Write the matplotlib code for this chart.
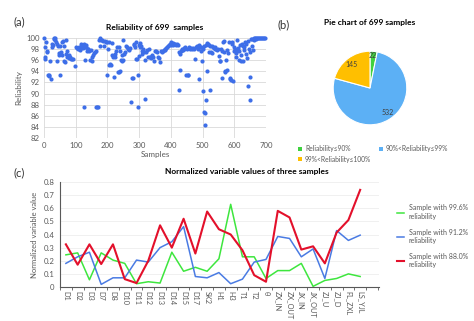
import matplotlib
matplotlib.use("Agg")
import matplotlib.pyplot as plt
from matplotlib.patches import Patch

plt.rcParams['font.family'] = ['Lato', 'DejaVu Sans']

# ---------------- data ----------------
scatter_points = [
    (0,100),(2,98.3),(3,96.5),(4,96.2),(6,99.2),(8,97.6),(10,97.4),(12,93.4),(15,93.3),(17,93.2),(20,95.8),(22,92.7),(24,99.0),(26,98.4),(28,98.8),(30,100),(32,99.9),(34,100),(36,99.6),(38,99.3),(40,95.8),(42,99.0),(44,98.6),(46,97.3),(48,97.0),(50,98.5),
    (52,93.4),(54,97.4),(56,97.0),(58,99.3),(60,99.5),(62,98.6),(64,95.8),(66,95.7),(68,99.7),(70,97.2),(72,96.6),(74,97.6),(76,96.8),(78,96.4),(80,96.9),(82,96.5),(85,96.3),(88,96.2),(92,96.3),(97,95.0),
    (100,98.3),(103,98.2),(106,98.0),(109,98.4),(112,98.1),(115,97.9),(118,99.0),(120,98.6),(122,98.2),(125,87.5),(127,99.0),(129,98.4),(130,96.0),(132,98.8),(134,98.3),(136,97.6),(138,98.1),(140,98.0),(143,97.6),(145,96.0),(147,97.9),(150,95.8),
    (152,96.6),(155,97.0),(158,97.3),(160,97.5),(163,97.6),(165,87.6),(168,87.6),(171,87.6),(172,99.7),(175,100),(177,98.6),(180,99.6),(183,99.7),(186,99.5),(189,98.5),(192,99.5),(195,99.3),(198,99.3),(200,93.3),
    (202,98.0),(204,99.3),(206,95.2),(208,95.3),(210,95.1),(213,99.1),(215,97.0),(218,96.5),(220,92.9),(223,96.6),(225,97.1),(228,97.6),(230,98.3),(232,93.8),(235,98.4),(237,93.9),(239,94.1),(241,97.6),(243,96.0),(245,95.9),(247,97.0),(248,99.7),(250,96.1),
    (253,97.2),(256,97.5),(259,98.6),(262,98.3),(265,98.1),(268,97.9),(271,98.2),(275,88.5),(277,92.8),(280,92.8),(283,99.0),(285,98.7),(287,98.4),(289,96.3),(291,99.3),(293,96.2),(295,87.6),(296,93.4),(298,98.8),(300,96.8),
    (302,98.3),(304,99.1),(306,98.5),(308,97.1),(310,97.6),(313,98.0),(315,97.5),(318,96.0),(320,89.0),(322,97.5),(325,97.9),(327,96.6),(330,98.0),(333,96.5),(335,96.6),(338,96.4),(341,97.0),(344,96.6),(347,95.8),(350,97.7),
    (353,97.6),(356,97.4),(359,96.5),(362,96.4),(365,95.6),(368,97.7),(371,97.5),(374,97.6),(377,97.8),(380,98.0),(383,97.9),(386,98.2),(389,98.4),(392,98.5),(395,98.7),(398,98.9),(400,98.7),
    (402,99.3),(404,99.0),(406,98.8),(408,99.1),(411,98.9),(414,99.0),(417,98.8),(420,98.9),(423,98.7),(425,90.7),(427,97.5),(429,97.2),(430,94.3),(432,97.6),(434,97.9),(436,98.1),(438,97.8),(440,98.0),(443,98.2),(445,98.3),(448,93.4),(450,98.1),
    (453,93.4),(455,93.3),(458,98.3),(461,98.0),(464,98.2),(467,98.1),(470,98.2),(473,98.0),(476,96.2),(479,98.4),(482,98.6),(485,98.0),(488,92.7),(490,98.7),(492,98.4),(494,97.6),(496,98.3),(498,95.8),(500,90.4),
    (501,98.0),(503,98.5),(505,86.6),(507,86.5),(509,84.4),(510,98.7),(512,88.9),(514,94.0),(515,99.1),(517,98.9),(519,98.7),(521,97.5),(523,90.7),(525,98.6),(527,97.4),(529,98.5),(531,97.3),(533,98.4),(535,98.2),(538,98.1),(540,98.3),(543,98.0),(546,97.8),(549,98.0),
    (552,96.8),(554,95.9),(556,95.8),(558,98.0),(560,97.7),(562,92.8),(564,99.2),(566,99.4),(568,97.5),(570,94.0),(572,93.8),(574,96.1),(576,97.9),(578,94.2),(580,97.3),(583,99.2),(586,92.8),(588,92.6),(590,92.4),(592,99.3),(594,99.0),(596,92.2),(598,98.4),(600,97.7),
    (602,98.1),(604,97.3),(606,96.5),(608,97.9),(610,99.6),(612,98.2),(614,96.1),(616,97.6),(618,98.7),(620,95.9),(622,97.0),(624,99.0),(626,98.5),(628,95.8),(630,97.8),(632,98.3),(634,99.2),(636,97.2),(638,98.9),(640,96.4),(642,99.5),(644,91.4),(646,98.0),(648,97.5),(650,88.9),(651,93.0),(653,99.8),(655,98.6),(657,99.9),(659,97.9),(661,100),(663,99.6),(665,100),(667,99.8),(670,100),(673,100),(676,100),(679,100),(682,100),(685,100),(688,100),(691,100),(694,100),(697,100),
]
samples = [p[0] for p in scatter_points]
reliability = [p[1] for p in scatter_points]

pie_labels = ["Reliability≤90%", "90%<Reliability≤99%", "99%<Reliability≤100%"]
pie_counts = [22, 532, 145]
pie_colors = ["#3fd13f", "#5cb0f5", "#ffbf00"]

categories = ["D1", "D2", "D3", "D7", "D8", "D10", "D11", "D12", "D13", "D14", "D15", "D17",
              "SK2", "H1", "H3", "T1", "T2", "θ", "ZX_IN", "ZX_OUT", "JX_IN", "JX_OUT",
              "ZJ_U", "ZJ_D", "FL_ZXL", "LS_YJL"]
green_996 = [0.245, 0.26, 0.055, 0.26, 0.205, 0.18, 0.025, 0.04, 0.03, 0.265, 0.12, 0.15,
             0.12, 0.215, 0.63, 0.23, 0.23, 0.065, 0.125, 0.125, 0.18, 0.005, 0.05, 0.065, 0.10, 0.08]
blue_912 = [0.18, 0.23, 0.265, 0.02, 0.07, 0.07, 0.205, 0.19, 0.30, 0.345, 0.46, 0.08,
            0.07, 0.11, 0.025, 0.06, 0.19, 0.21, 0.385, 0.37, 0.23, 0.29, 0.065, 0.43, 0.355, 0.395]
red_880 = [0.325, 0.17, 0.325, 0.175, 0.325, 0.06, 0.03, 0.20, 0.47, 0.30, 0.52, 0.255,
           0.575, 0.44, 0.40, 0.28, 0.09, 0.04, 0.58, 0.53, 0.285, 0.31, 0.18, 0.415, 0.51, 0.74]
series_labels = ["Sample with 99.6%\nreliability", "Sample with 91.2%\nreliability",
                 "Sample with 88.0%\nreliability"]

# ---------------- figure ----------------
W, H = 474, 321
fig = plt.figure(figsize=(W / 100, H / 100), dpi=100)


def px_axes(l, t, r, b):
    return fig.add_axes([l / W, (H - b) / H, (r - l) / W, (b - t) / H])


tick_col = "#595959"

# (a) scatter
axa = px_axes(44, 38, 266, 138)
axa.scatter(samples, reliability, s=9, color="#3d6ee8", linewidths=0, clip_on=False, zorder=3)
axa.set_xlim(0, 700)
axa.set_ylim(82, 100)
axa.set_xticks(range(0, 701, 100))
axa.set_yticks(range(82, 101, 2))
axa.grid(True, color="#d9d9d9", linewidth=0.6)
axa.set_axisbelow(True)
for s in axa.spines.values():
    s.set_visible(False)
axa.tick_params(length=0, labelsize=5.6, colors=tick_col, pad=3)
axa.set_xlabel("Samples", fontsize=5.8, color=tick_col, labelpad=1)
axa.set_ylabel("Reliability", fontsize=5.8, color=tick_col, labelpad=3)
axa.set_title("Reliability of 699  samples", fontsize=6, fontweight="bold", pad=6)
fig.text(13 / W, 1 - 22 / H, "(a)", fontsize=8, va="center", ha="left", color="#333333")

# (b) pie
axb = px_axes(324, 42, 416, 134)
wedges, _ = axb.pie(pie_counts, colors=pie_colors, startangle=90, counterclock=False,
                    wedgeprops=dict(edgecolor="white", linewidth=0.8))
axb.set_aspect("equal")
label_pos = [(0.07, 0.87), (0.47, -0.66), (-0.49, 0.64)]
for (x, y), n in zip(label_pos, pie_counts):
    axb.text(x, y, str(n), fontsize=5, ha="center", va="center", color="#404040")
fig.text(370 / W, 1 - 22 / H, "Pie chart of 699 samples", fontsize=6, fontweight="bold",
         ha="center", va="center")
fig.text(277 / W, 1 - 25 / H, "(b)", fontsize=8, va="center", ha="left", color="#333333")
handles = [Patch(facecolor=c, edgecolor="none") for c in pie_colors]
order = [0, 2, 1]
leg_b = fig.legend([handles[i] for i in order], [pie_labels[i] for i in order],
                   loc="upper left", bbox_to_anchor=(295 / W, 1 - 142 / H),
                   ncol=2, frameon=False, fontsize=4.8, handlelength=0.6, handleheight=0.6,
                   handletextpad=0.4, columnspacing=1.2, labelspacing=0.5, borderpad=0)
for t in leg_b.get_texts():
    t.set_color(tick_col)

# (c) lines
axc = px_axes(60, 182, 379, 287)
x = list(range(len(categories)))
axc.plot(x, green_996, color="#3ee63e", linewidth=1.1, label=series_labels[0])
axc.plot(x, blue_912, color="#4a7be3", linewidth=1.1, label=series_labels[1])
axc.plot(x, red_880, color="#e3102b", linewidth=1.5, label=series_labels[2])
axc.set_xlim(-0.5, 26.6)
axc.set_ylim(0, 0.8)
axc.set_yticks([0, 0.1, 0.2, 0.3, 0.4, 0.5, 0.6, 0.7, 0.8])
axc.set_yticklabels(["0", "0.1", "0.2", "0.3", "0.4", "0.5", "0.6", "0.7", "0.8"])
axc.set_xticks(x)
axc.set_xticklabels(categories, rotation=-90, fontsize=5.3, color=tick_col)
axc.set_xticks([i + 0.5 for i in range(-1, 27)], minor=True)
axc.tick_params(axis="x", which="major", length=0, pad=3)
axc.tick_params(axis="x", which="minor", length=2, color="#595959", width=0.6)
axc.tick_params(axis="y", length=0, labelsize=5.6, colors=tick_col, pad=4)
axc.grid(True, axis="y", color="#eeeeee", linewidth=0.6)
axc.set_axisbelow(True)
axc.spines["top"].set_visible(False)
axc.spines["right"].set_visible(False)
axc.spines["left"].set_color("#595959")
axc.spines["bottom"].set_color("#595959")
axc.spines["left"].set_linewidth(0.8)
axc.spines["bottom"].set_linewidth(0.8)
axc.set_ylabel("Normalized variable value", fontsize=5.5, color=tick_col, labelpad=4)
fig.text(247 / W, 1 - 172 / H, "Normalized variable values of three samples", fontsize=6,
         fontweight="bold", ha="center", va="center")
fig.text(13 / W, 1 - 173 / H, "(c)", fontsize=8, va="center", ha="left", color="#333333")
leg_c = fig.legend(loc="upper left", bbox_to_anchor=(394 / W, 1 - 201 / H), frameon=False,
                   fontsize=5, handlelength=1.0, handletextpad=0.6, labelspacing=1.3, borderpad=0)
for t in leg_c.get_texts():
    t.set_color(tick_col)

fig.savefig("out.png", dpi=100)
